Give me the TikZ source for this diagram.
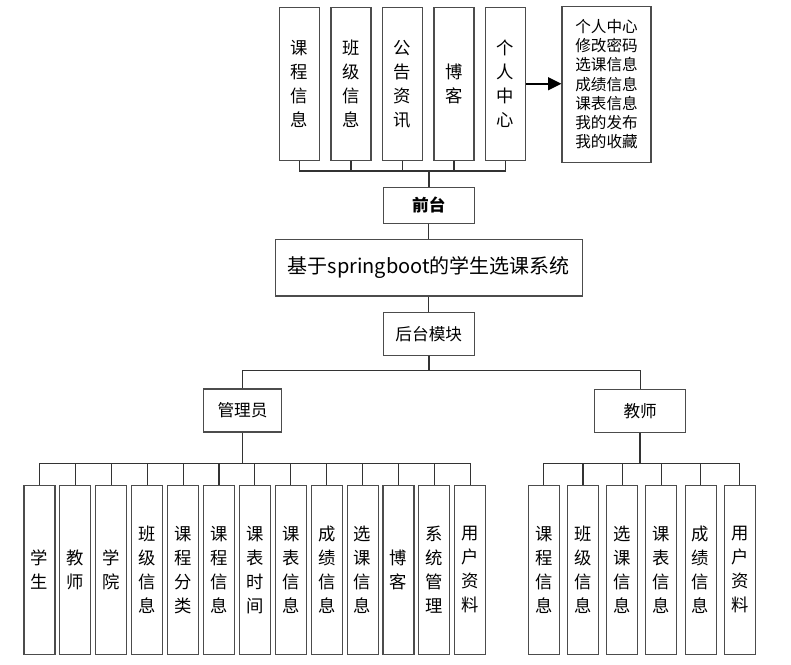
\documentclass[tikz,border=0pt]{standalone}
\usepackage{fontspec}
\setmainfont{Noto Sans CJK SC}
\usetikzlibrary{positioning}
\usetikzlibrary{arrows.meta}

\tikzset{
  box/.style={draw=black!70, line width=0.8pt, fill=white, inner sep=0pt, align=center},
  colbox/.style={box, minimum width=30pt, minimum height=114.75pt, font=\fontsize{13}{18}\selectfont},
  lowbox/.style={box, minimum width=23.25pt, minimum height=127.1pt, font=\fontsize{13}{18}\selectfont},
  headbox/.style={box, minimum width=68.25pt, minimum height=32.25pt, font=\fontsize{12.5}{15}\selectfont},
  link/.style={draw=black!80, line width=0.8pt},
}

\begin{document}
\begin{tikzpicture}[x=0.75pt, y=0.75pt]

\useasboundingbox (0,0) rectangle (791,664);

% front end
\node[colbox] (k1) at (299.5,580.2) {课\\程\\信\\息};
\node[colbox] (k2) at (351,580.2) {班\\级\\信\\息};
\node[colbox] (k3) at (402.5,580.2) {公\\告\\资\\讯};
\node[colbox] (k4) at (454,580.2) {博\\客};
\node[colbox] (k5) at (505.5,580.2) {个\\人\\中\\心};

\node[box, minimum width=66.75pt, minimum height=116.8pt, align=left,
      font=\fontsize{11.7}{14.4}\selectfont] (grzx) at (606.5,579.8)
      {个人中心\\修改密码\\选课信息\\成绩信息\\课表信息\\我的发布\\我的收藏};

\draw[-{Triangle[length=10pt,width=9.5pt]}, line width=1.5pt] (k5.east) -- (k5.east -| grzx.west);

\node[headbox, minimum height=26.8pt, font=\fontsize{12.5}{15}\selectfont\bfseries] (qt) at (428.8,458.8) {前台};

\coordinate (topbus) at (428.8,493);
\draw[link] (k1.south) |- (topbus);
\draw[link] (k2.south) |- (topbus);
\draw[link] (k3.south) |- (topbus);
\draw[link] (k4.south) |- (topbus);
\draw[link] (k5.south) |- (topbus);
\draw[link, line width=1.2pt] (topbus) -- (qt.north);

% system
\node[box, minimum width=230.25pt, minimum height=42.5pt, font=\fontsize{15}{18}\selectfont] (xt) at (428.8,396.3) {基于springboot的学生选课系统};
\draw[link] (qt.south) -- (xt.north);

\node[headbox] (htmk) at (428.8,330.2) {后台模块};
\draw[link] (xt.south) -- (htmk.north);

% back end
\node[headbox, minimum width=58.2pt] (gly) at (242.5,253.5) {管理员};
\node[headbox] (js) at (640.2,253.3) {教师};

\coordinate (midbus) at (428.8,293.3);
\draw[link, line width=1.2pt] (htmk.south) -- (midbus);
\draw[link] (gly.north) |- (midbus);
\draw[link] (js.north) |- (midbus);

% admin
\node[lowbox] (g1) at (39.5,94.2) {学\\生};
\node[lowbox] (g2) at (75.4,94.2) {教\\师};
\node[lowbox] (g3) at (111.3,94.2) {学\\院};
\node[lowbox] (g4) at (147.2,94.2) {班\\级\\信\\息};
\node[lowbox] (g5) at (183.1,94.2) {课\\程\\分\\类};
\node[lowbox] (g6) at (219,94.2) {课\\程\\信\\息};
\node[lowbox] (g7) at (254.9,94.2) {课\\表\\时\\间};
\node[lowbox] (g8) at (290.8,94.2) {课\\表\\信\\息};
\node[lowbox] (g9) at (326.7,94.2) {成\\绩\\信\\息};
\node[lowbox] (g10) at (362.6,94.2) {选\\课\\信\\息};
\node[lowbox] (g11) at (398.5,94.2) {博\\客};
\node[lowbox] (g12) at (434.4,94.2) {系\\统\\管\\理};
\node[lowbox] (g13) at (470.3,94.2) {用\\户\\资\\料};

\coordinate (gbus) at (242.5,200.5);
\draw[link, line width=1.2pt] (gly.south) -- (gbus);
\draw[link] (g1.north) |- (gbus);
\draw[link] (g2.north) |- (gbus);
\draw[link] (g3.north) |- (gbus);
\draw[link] (g4.north) |- (gbus);
\draw[link] (g5.north) |- (gbus);
\draw[link] (g6.north) |- (gbus);
\draw[link] (g7.north) |- (gbus);
\draw[link] (g8.north) |- (gbus);
\draw[link] (g9.north) |- (gbus);
\draw[link] (g10.north) |- (gbus);
\draw[link] (g11.north) |- (gbus);
\draw[link] (g12.north) |- (gbus);
\draw[link] (g13.north) |- (gbus);

% teacher
\node[lowbox] (t1) at (543.8,94.2) {课\\程\\信\\息};
\node[lowbox] (t2) at (583,94.2) {班\\级\\信\\息};
\node[lowbox] (t3) at (622.2,94.2) {选\\课\\信\\息};
\node[lowbox] (t4) at (661.4,94.2) {课\\表\\信\\息};
\node[lowbox] (t5) at (700.6,94.2) {成\\绩\\信\\息};
\node[lowbox] (t6) at (739.8,94.2) {用\\户\\资\\料};

\coordinate (tbus) at (640.2,200.7);
\draw[link, line width=1.2pt] (js.south) -- (tbus);
\draw[link] (t1.north) |- (tbus);
\draw[link] (t2.north) |- (tbus);
\draw[link] (t3.north) |- (tbus);
\draw[link] (t4.north) |- (tbus);
\draw[link] (t5.north) |- (tbus);
\draw[link] (t6.north) |- (tbus);

\end{tikzpicture}
\end{document}
